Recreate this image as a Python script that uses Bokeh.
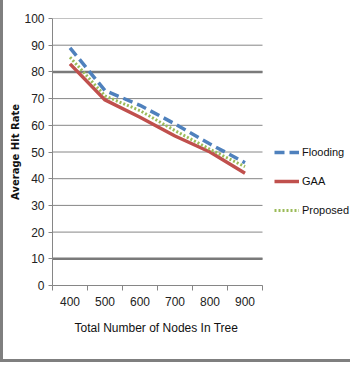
from bokeh.plotting import figure
from bokeh.models import Legend, LegendItem, FixedTicker, Title
from bokeh.embed import file_html
from bokeh.resources import INLINE

nodes = ["400", "500", "600", "700", "800", "900"]
flooding = [89, 73, 67.5, 60.5, 53, 46]
gaa = [83, 69.5, 63, 56, 50, 42]
proposed = [85.5, 71, 65.5, 58, 51, 44.5]
y_ticks = [0, 10, 20, 30, 40, 50, 60, 70, 80, 90, 100]
heavy_ticks = [80, 10]

FONT = "Liberation Sans Narrow, Liberation Sans, sans-serif"
GRID = "#868686"

n = len(nodes)
xs = [i + 0.5 for i in range(n)]

p = figure(width=350, height=362, output_backend="svg", toolbar_location=None,
           x_range=(0, n * 301 / 210), y_range=(0, 100),
           min_border_left=49, min_border_right=0, min_border_top=18, min_border_bottom=77,
           styles={"border-left": "3px solid #7f7f7f", "border-bottom": "3px solid #7f7f7f"})
p.outline_line_color = None
p.background_fill_color = "white"
p.border_fill_color = "white"
p.xgrid.grid_line_color = None
p.ygrid.grid_line_color = None

# horizontal gridlines limited to the plotting area of the categories
p.segment(x0=[0] * len(y_ticks), x1=[n] * len(y_ticks), y0=y_ticks, y1=y_ticks,
          line_color=GRID, line_width=1)
p.segment(x0=[0] * len(heavy_ticks), x1=[n] * len(heavy_ticks), y0=heavy_ticks, y1=heavy_ticks,
          line_color="#7a7a7a", line_width=2.5)

# axes
p.xaxis.bounds = (0, n)
p.xaxis.ticker = FixedTicker(ticks=xs, minor_ticks=list(range(n + 1)))
p.xaxis.major_label_overrides = {x: lab for x, lab in zip(xs, nodes)}
p.xaxis.major_tick_line_color = None
p.xaxis.minor_tick_line_color = GRID
p.xaxis.minor_tick_out = 5
p.xaxis.minor_tick_in = 0
p.xaxis.axis_line_color = GRID
p.xaxis.major_label_standoff = 5

p.yaxis.ticker = FixedTicker(ticks=y_ticks)
p.yaxis.major_tick_out = 4
p.yaxis.major_tick_in = 0
p.yaxis.minor_tick_line_color = None
p.yaxis.axis_line_color = GRID
p.yaxis.major_tick_line_color = GRID
p.yaxis.major_label_standoff = 4
p.yaxis.axis_label = "Average Hit Rate"
p.yaxis.axis_label_standoff = 0
p.yaxis.axis_label_text_font_style = "bold"
p.yaxis.axis_label_text_font = "DejaVu Sans"
p.yaxis.axis_label_text_font_size = "10px"
p.yaxis.axis_label_text_color = "#111111"

for ax in (p.xaxis, p.yaxis):
    ax.major_label_text_font = FONT
    ax.major_label_text_font_size = "12px"
    ax.major_label_text_color = "#222222"

xtitle = Title(text="Total Number of Nodes In Tree", align="left", offset=22,
               text_font=FONT, text_font_size="12px", text_font_style="normal",
               text_color="#111111", standoff=21)
p.add_layout(xtitle, "below")

r1 = p.line(xs, flooding, line_color="#4F81BD", line_width=3.5, line_dash="10 5")
r2 = p.line(xs, gaa, line_color="#C0504D", line_width=3.5)
r3 = p.line(xs, proposed, line_color="#9BBB59", line_width=3, line_dash="2 2")

legend = Legend(items=[LegendItem(label="Flooding", renderers=[r1]),
                       LegendItem(label="GAA", renderers=[r2]),
                       LegendItem(label="Proposed", renderers=[r3])],
                location=(222, 65), orientation="vertical",
                glyph_width=25, glyph_height=20, spacing=9, label_standoff=3,
                padding=0, margin=0, border_line_color=None,
                background_fill_alpha=0,
                label_text_font=FONT, label_text_font_size="11px",
                label_text_color="#111111")
p.add_layout(legend, "center")

open("out.html", "w").write(file_html(p, INLINE))
